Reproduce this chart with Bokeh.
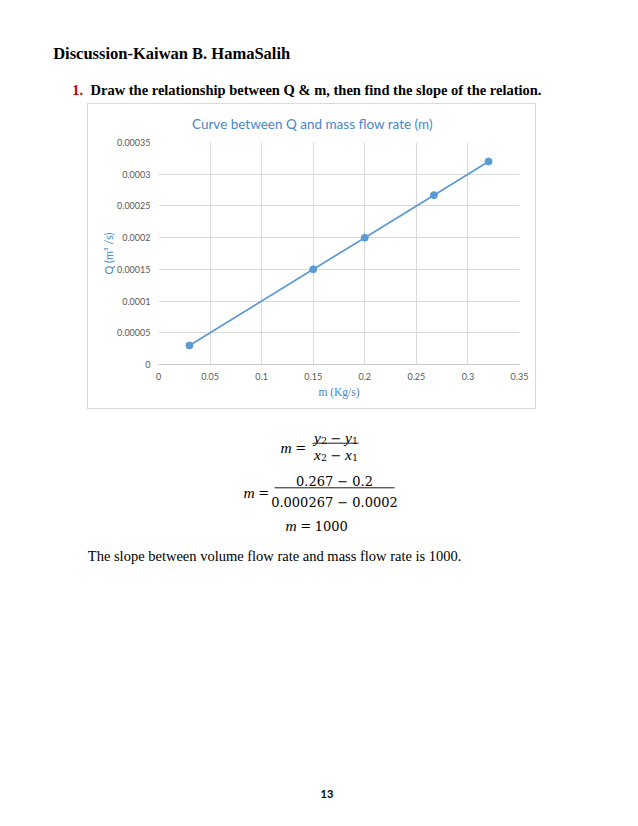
from bokeh.plotting import figure
from bokeh.layouts import column, row
from bokeh.models import Range1d, FixedTicker, Spacer
from bokeh.core.properties import value
from bokeh.embed import file_html
from bokeh.resources import INLINE

# ---------------- data ----------------
mass_flow = [0.03, 0.15, 0.2, 0.267, 0.32]          # m (Kg/s)
volume_flow = [0.00003, 0.00015, 0.0002, 0.000267, 0.00032]  # Q (m3/s)

x_ticks = [0, 0.05, 0.1, 0.15, 0.2, 0.25, 0.3, 0.35]
x_tick_labels = ["0", "0.05", "0.1", "0.15", "0.2", "0.25", "0.3", "0.35"]
y_ticks = [0, 0.00005, 0.0001, 0.00015, 0.0002, 0.00025, 0.0003, 0.00035]
y_tick_labels = ["0", "0.00005", "0.0001", "0.00015", "0.0002", "0.00025", "0.0003", "0.00035"]

chart_title = "Curve between Q and mass flow rate (m)"
x_label = "m (Kg/s)"
y_label = "Q (m\u00b3 /s)"

heading = "Discussion-Kaiwan B. HamaSalih"
question_num = "1."
question = "Draw the relationship between Q & m, then find the slope of the relation."
conclusion = "The slope between volume flow rate and mass flow rate is 1000."
page_number = "13"

BLUE = "#4a86c8"
LINE_BLUE = "#5b9bd5"
SERIF = value("Liberation Serif")
MATH = value("DejaVu Serif")
PAGE_W = 638


def blank_fig(w, h):
    f = figure(width=w, height=h, x_range=Range1d(0, w), y_range=Range1d(h, 0),
               output_backend="svg", toolbar_location=None,
               min_border=0, min_border_left=0, min_border_right=0,
               min_border_top=0, min_border_bottom=0)
    f.xaxis.visible = False
    f.yaxis.visible = False
    f.grid.visible = False
    f.outline_line_color = None
    f.background_fill_color = "white"
    f.border_fill_color = "white"
    return f


# ---------------- header ----------------
header = blank_fig(PAGE_W, 103)
header.text(x=[52.7], y=[53.3], text=[heading], text_font=SERIF, text_font_style="bold",
            text_font_size="16.5px", text_color="black", text_baseline="alphabetic")
header.text(x=[71.7], y=[89.5], text=[question_num], text_font=SERIF, text_font_style="bold",
            text_font_size="14.5px", text_color="#c00000", text_baseline="alphabetic")
header.text(x=[90], y=[89.5], text=[question], text_font=SERIF, text_font_style="bold",
            text_font_size="14.5px", text_color="black", text_baseline="alphabetic")

# ---------------- chart ----------------
chart = figure(width=449, height=306, x_range=Range1d(0, 0.35), y_range=Range1d(0, 0.00035),
               output_backend="svg", toolbar_location=None,
               min_border_left=70, min_border_right=18, min_border_top=38, min_border_bottom=46)
chart.styles = {"border": "1px solid #d9d9d9"}
chart.background_fill_color = "white"
chart.border_fill_color = "white"
chart.outline_line_color = None

chart.title.text = chart_title
chart.title.text_font = "Lato"
chart.title.text_font_size = "13.5px"
chart.title.text_font_style = "normal"
chart.title.text_color = BLUE
chart.title.align = "left"
chart.title.offset = 33.5
chart.title.vertical_align = "top"
chart.title.standoff = 18

chart.xaxis.ticker = FixedTicker(ticks=x_ticks)
chart.yaxis.ticker = FixedTicker(ticks=y_ticks)
chart.xaxis.major_label_overrides = dict(zip(x_ticks, x_tick_labels))
chart.yaxis.major_label_overrides = dict(zip(y_ticks, y_tick_labels))

for ax in (chart.xaxis, chart.yaxis):
    ax.major_tick_line_color = None
    ax.minor_tick_line_color = None
    ax.major_tick_out = 0
    ax.major_tick_in = 0
    ax.major_label_text_font = "Lato"
    ax.major_label_text_font_size = "9px"
    ax.major_label_text_color = "#595959"
    ax.axis_label_text_color = BLUE
    ax.axis_label_text_font_style = "normal"

chart.yaxis.major_label_standoff = 8
chart.xaxis.major_label_standoff = 8
chart.xaxis.axis_line_color = "#cccccc"
chart.yaxis.axis_line_color = None
chart.xaxis.axis_label = x_label
chart.xaxis.axis_label_text_font = "Liberation Serif"
chart.xaxis.axis_label_text_font_size = "11.5px"
chart.xaxis.axis_label_standoff = 3
chart.yaxis.axis_label = y_label
chart.yaxis.axis_label_text_font = "Lato"
chart.yaxis.axis_label_text_font_size = "11px"
chart.yaxis.axis_label_standoff = -1

chart.xgrid.grid_line_color = "#d9d9d9"
chart.ygrid.grid_line_color = "#d9d9d9"
chart.xgrid.grid_line_width = 1
chart.ygrid.grid_line_width = 1

chart.line(mass_flow, volume_flow, line_color=LINE_BLUE, line_width=1.75)
chart.scatter(mass_flow, volume_flow, size=7, fill_color=LINE_BLUE, line_color=LINE_BLUE)

# ---------------- footer ----------------
footer = blank_fig(PAGE_W, 415)


def txt(x, y, s, font=MATH, size="13px", italic=False, align="left"):
    footer.text(x=[x], y=[y], text=[s], text_font=font,
                text_font_style="italic" if italic else "normal",
                text_font_size=size, text_align=align, text_baseline="alphabetic",
                text_color="black")


def var(x, y, s):
    txt(x, y, s, font=SERIF, size="15.5px", italic=True)


def sub(x, y, s):
    txt(x, y + 3, s, size="9.5px")


def diff_of_subscripted(left, y, letter):
    # letter_2 - letter_1
    var(left, y, letter)
    sub(left + 7, y, "2")
    txt(left + 22, y, "\u2212", align="center")
    var(left + 31, y, letter)
    sub(left + 38, y, "1")


# equation 1
var(280, 36, "m")
txt(300.3, 36, "=", align="center")
footer.segment(x0=[312], y0=[31.7], x1=[358], y1=[31.7], line_color="black", line_width=0.9)
diff_of_subscripted(313.5, 26.3, "y")
diff_of_subscripted(313.5, 43, "x")
# equation 2
var(243, 81.3, "m")
txt(263.3, 81.3, "=", align="center")
footer.segment(x0=[274], y0=[76.3], x1=[394], y1=[76.3], line_color="black", line_width=0.9)
txt(334, 69.5, "0.267 \u2212 0.2", align="center")
txt(334, 90.5, "0.000267 \u2212 0.0002", align="center")
# equation 3
var(285, 114, "m")
txt(305.3, 114, "=", align="center")
txt(314.3, 114, "1000")
# conclusion
footer.text(x=[87.3], y=[144.7], text=[conclusion], text_font=SERIF, text_font_size="14.5px",
            text_baseline="alphabetic", text_color="black")
# page number
footer.text(x=[326.5], y=[382.3], text=[page_number], text_font=value("Lato"), text_font_style="bold",
            text_font_size="11px", text_align="center", text_baseline="alphabetic", text_color="black")

layout = column(header,
                row(Spacer(width=87, height=308), chart, Spacer(width=100, height=308)),
                footer)

open("out.html", "w").write(file_html(layout, INLINE))
